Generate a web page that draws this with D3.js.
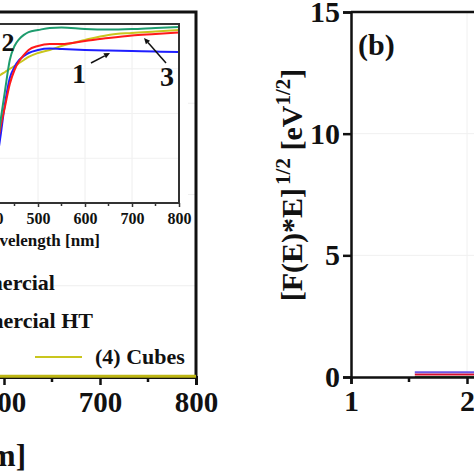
<!DOCTYPE html>
<html>
<head>
<meta charset="utf-8">
<script src="https://cdn.jsdelivr.net/npm/d3@7"></script>
<style>
  html, body { margin: 0; padding: 0; background: #fff; }
  svg { display: block; }
  text { font-family: "Liberation Serif", "DejaVu Serif", serif; font-weight: bold; fill: #111; }
</style>
</head>
<body>
<div id="chart"></div>
<script>
// inset: wavelength spectra (panel a)
const insetNm = [400, 420, 430, 440, 450, 460, 470, 480, 500, 525, 550, 600, 650, 700, 750, 800];
const blueVals   = [1.7, 36.9, 55.9, 69.8, 76.0, 79.9, 82.1, 83.8, 85.5, 86.3, 86.0, 85.5, 85.2, 84.9, 84.6, 84.4];
const greenVals  = [1.7, 45.3, 63.1, 79.9, 87.7, 91.6, 93.9, 95.5, 96.6, 97.8, 98.0, 97.2, 96.9, 97.2, 97.8, 98.3];
const redVals    = [10.0, 41.9, 54.2, 66.5, 74.3, 79.3, 82.7, 85.5, 87.7, 88.8, 88.8, 90.5, 92.2, 93.6, 94.4, 95.3];
const yellowVals = [67.6, 71.5, 73.2, 74.9, 76.5, 78.2, 79.9, 81.6, 83.8, 85.5, 87.7, 91.1, 93.9, 95.0, 95.8, 96.6];
const insetTicks = [400, 500, 600, 700, 800];

// main panel (a)
const mainNm = [300, 400, 500, 600, 700, 800];
const cubesMain = [0.002, 0.002, 0.002, 0.002, 0.002, 0.002];
const mainTicks = [300, 400, 500, 600, 700, 800];
const legendLabels = ["(2) Commercial", "(3) Commercial HT", "(4) Cubes"];

// panel (b)
const energy = [1.55, 1.7, 1.85, 2.0, 2.15];
const bBlue  = [0.2, 0.2, 0.2, 0.2, 0.2];
const bRed   = [0.1, 0.1, 0.1, 0.1, 0.1];
const bGreen = [0.0, 0.0, 0.0, 0.0, 0.0];
const bYTicks = [0, 5, 10, 15];
const bXTicks = [1, 2, 3];

const colors = { blue: "#1f1fff", green: "#1e9c6e", red: "#ff1a1a", yellow: "#c9c61e" };

const svg = d3.select("#chart").append("svg")
    .attr("width", 474)
    .attr("height", 474);

// ---------- panel (a) main ----------
const xMain = d3.scaleLinear().domain([300, 800]).range([-284, 196]);
const yMain = d3.scaleLinear().domain([0, 1]).range([377, 12]);

// faint grid
svg.append("g").selectAll("line")
    .data([0.25, 0.5, 0.75])
    .enter().append("line")
    .attr("x1", xMain(300)).attr("x2", xMain(800))
    .attr("y1", d => yMain(d)).attr("y2", d => yMain(d))
    .attr("stroke", "#eeeeee").attr("stroke-width", 1);

// frame
svg.append("path")
    .attr("d", `M${xMain(300)},${yMain(1)}H${xMain(800)}V${yMain(0)}`)
    .attr("fill", "none").attr("stroke", "#111").attr("stroke-width", 3);

const axMain = svg.append("g")
    .attr("transform", `translate(0,${yMain(0)})`)
    .call(d3.axisBottom(xMain).tickValues(mainTicks).tickSize(8).tickPadding(6).tickFormat(d3.format("d")));
axMain.select(".domain").attr("stroke", "#111").attr("stroke-width", 3);
axMain.selectAll(".tick line").attr("stroke", "#111").attr("stroke-width", 2.5);
axMain.selectAll(".tick text").style("font-size", "29px").attr("font-family", null);
svg.append("g").selectAll("line")
    .data([350, 450, 550, 650, 750])
    .enter().append("line")
    .attr("x1", d => xMain(d)).attr("x2", d => xMain(d))
    .attr("y1", yMain(0)).attr("y2", yMain(0) + 5)
    .attr("stroke", "#111").attr("stroke-width", 2.5);

svg.append("text")
    .attr("x", 26).attr("y", 466)
    .attr("text-anchor", "end")
    .style("font-size", "31px")
    .text("Wavelength [nm]");

// cubes line in main panel
const lineMain = d3.line().x((d, i) => xMain(mainNm[i])).y(d => yMain(d));
svg.append("path")
    .datum(cubesMain)
    .attr("d", lineMain)
    .attr("fill", "none").attr("stroke", "#bdb614").attr("stroke-width", 3);

// legend
svg.append("text").attr("x", 55).attr("y", 290).attr("text-anchor", "end")
    .style("font-size", "22px").text(legendLabels[0]);
svg.append("text").attr("x", 93).attr("y", 328).attr("text-anchor", "end")
    .style("font-size", "22px").text(legendLabels[1]);
svg.append("line").attr("x1", 35).attr("x2", 82).attr("y1", 357).attr("y2", 357)
    .attr("stroke", colors.yellow).attr("stroke-width", 2);
svg.append("text").attr("x", 95).attr("y", 364)
    .style("font-size", "22px").text(legendLabels[2]);

// ---------- inset ----------
const xIn = d3.scaleLinear().domain([400, 800]).range([-9, 179]);
const yIn = d3.scaleLinear().domain([0, 100]).range([203, 24]);

svg.append("rect")
    .attr("x", -60).attr("y", 16).attr("width", 248).attr("height", 238)
    .attr("fill", "#fff");

svg.append("g").selectAll("line")
    .data([500, 600, 700])
    .enter().append("line")
    .attr("x1", d => xIn(d)).attr("x2", d => xIn(d))
    .attr("y1", yIn(100)).attr("y2", yIn(0))
    .attr("stroke", "#eeeeee");
svg.append("g").selectAll("line")
    .data([25, 50, 75])
    .enter().append("line")
    .attr("x1", xIn(400)).attr("x2", xIn(800))
    .attr("y1", d => yIn(d)).attr("y2", d => yIn(d))
    .attr("stroke", "#f1f1f1");

svg.append("defs").append("clipPath").attr("id", "insetClip")
    .append("rect")
    .attr("x", xIn(400)).attr("y", yIn(100))
    .attr("width", xIn(800) - xIn(400)).attr("height", yIn(0) - yIn(100));

const lineIn = d3.line()
    .x((d, i) => xIn(insetNm[i]))
    .y(d => yIn(d))
    .curve(d3.curveMonotoneX);

const insetSeries = [
    { vals: yellowVals, color: colors.yellow },
    { vals: blueVals, color: colors.blue },
    { vals: redVals, color: colors.red },
    { vals: greenVals, color: colors.green }
];
svg.append("g").attr("clip-path", "url(#insetClip)")
    .selectAll("path")
    .data(insetSeries)
    .enter().append("path")
    .attr("d", d => lineIn(d.vals))
    .attr("fill", "none")
    .attr("stroke", d => d.color)
    .attr("stroke-width", 2);

svg.append("path")
    .attr("d", `M${xIn(400)},${yIn(100)}H${xIn(800)}V${yIn(0)}H${xIn(400)}`)
    .attr("fill", "none").attr("stroke", "#333").attr("stroke-width", 2);

const axIn = svg.append("g")
    .attr("transform", `translate(0,${yIn(0)})`)
    .call(d3.axisBottom(xIn).tickValues(insetTicks).tickSize(4).tickPadding(6).tickFormat(d3.format("d")));
axIn.select(".domain").remove();
axIn.selectAll(".tick line").attr("stroke", "#333").attr("stroke-width", 1.5);
axIn.selectAll(".tick text").style("font-size", "16px").attr("font-family", null).attr("fill", "#222");
svg.append("g").selectAll("line")
    .data([450, 550, 650, 750])
    .enter().append("line")
    .attr("x1", d => xIn(d)).attr("x2", d => xIn(d))
    .attr("y1", yIn(0)).attr("y2", yIn(0) + 3)
    .attr("stroke", "#333").attr("stroke-width", 1.5);
svg.append("text")
    .attr("x", 100).attr("y", 246)
    .attr("text-anchor", "end")
    .style("font-size", "17px")
    .text("Wavelength [nm]");

// curve labels and arrows
svg.append("text").attr("x", 8).attr("y", 51).attr("text-anchor", "middle").style("font-size", "26px").text("2");
svg.append("text").attr("x", 79).attr("y", 83).attr("text-anchor", "middle").style("font-size", "28px").text("1");
svg.append("text").attr("x", 167).attr("y", 86).attr("text-anchor", "middle").style("font-size", "28px").text("3");

const arrows = [
    { from: [91, 63], to: [110, 53] },
    { from: [166, 63], to: [144, 38] }
];
arrows.forEach(a => {
    const ang = Math.atan2(a.to[1] - a.from[1], a.to[0] - a.from[0]);
    const hl = 6, hw = 2.8;
    const bx = a.to[0] - hl * Math.cos(ang), by = a.to[1] - hl * Math.sin(ang);
    svg.append("line")
        .attr("x1", a.from[0]).attr("y1", a.from[1])
        .attr("x2", bx).attr("y2", by)
        .attr("stroke", "#111").attr("stroke-width", 1.5);
    svg.append("path")
        .attr("d", `M${a.to[0]},${a.to[1]}L${bx - hw * Math.sin(ang)},${by + hw * Math.cos(ang)}L${bx + hw * Math.sin(ang)},${by - hw * Math.cos(ang)}Z`)
        .attr("fill", "#111");
});

// ---------- panel (b) ----------
const xB = d3.scaleLinear().domain([1, 4]).range([351, 699]);
const yB = d3.scaleLinear().domain([0, 15]).range([377, 12]);

svg.append("g").selectAll("line")
    .data([5, 10])
    .enter().append("line")
    .attr("x1", xB(1)).attr("x2", 474)
    .attr("y1", d => yB(d)).attr("y2", d => yB(d))
    .attr("stroke", "#f0f0f0");
svg.append("line")
    .attr("x1", xB(2)).attr("x2", xB(2))
    .attr("y1", yB(15)).attr("y2", yB(0))
    .attr("stroke", "#f0f0f0");

const lineB = d3.line().x((d, i) => xB(energy[i])).y(d => yB(d));
[{ vals: bGreen, color: "#2a8a3a" }, { vals: bRed, color: "#d8102c" }, { vals: bBlue, color: "#6a55e6" }]
    .forEach(s => {
        svg.append("path")
            .datum(s.vals)
            .attr("d", lineB)
            .attr("fill", "none").attr("stroke", s.color).attr("stroke-width", 2);
    });

const axBy = svg.append("g")
    .attr("transform", `translate(${xB(1)},0)`)
    .call(d3.axisLeft(yB).tickValues(bYTicks).tickSize(8).tickPadding(3));
axBy.select(".domain").attr("stroke", "#111").attr("stroke-width", 2.5);
axBy.selectAll(".tick line").attr("stroke", "#111").attr("stroke-width", 2.5);
axBy.selectAll(".tick text").style("font-size", "30px").attr("font-family", null);

const axBx = svg.append("g")
    .attr("transform", `translate(0,${yB(0)})`)
    .call(d3.axisBottom(xB).tickValues(bXTicks).tickSize(7).tickPadding(6).tickFormat(d3.format("d")));
axBx.select(".domain").attr("stroke", "#111").attr("stroke-width", 2.5);
axBx.selectAll(".tick line").attr("stroke", "#111").attr("stroke-width", 2.5);
axBx.selectAll(".tick text").style("font-size", "30px").attr("font-family", null);
svg.append("line")
    .attr("x1", xB(1.5)).attr("x2", xB(1.5))
    .attr("y1", yB(0)).attr("y2", yB(0) + 5)
    .attr("stroke", "#111").attr("stroke-width", 2.5);

svg.append("line")
    .attr("x1", xB(1)).attr("x2", 474)
    .attr("y1", yB(15)).attr("y2", yB(15))
    .attr("stroke", "#111").attr("stroke-width", 2.5);

svg.append("text").attr("x", 358).attr("y", 55).style("font-size", "30px").text("(b)");

// y title
const yTitle = svg.append("text")
    .attr("transform", "translate(302,185) rotate(-90)")
    .attr("text-anchor", "middle")
    .style("font-size", "30px");
yTitle.append("tspan").text("[F(E)*E]");
yTitle.append("tspan").attr("dy", -12).attr("dx", 3).style("font-size", "21px").text("1/2");
yTitle.append("tspan").attr("dy", 12).text(" [eV");
yTitle.append("tspan").attr("dy", -12).style("font-size", "21px").text("1/2");
yTitle.append("tspan").attr("dy", 12).text("]");
</script>
</body>
</html>
